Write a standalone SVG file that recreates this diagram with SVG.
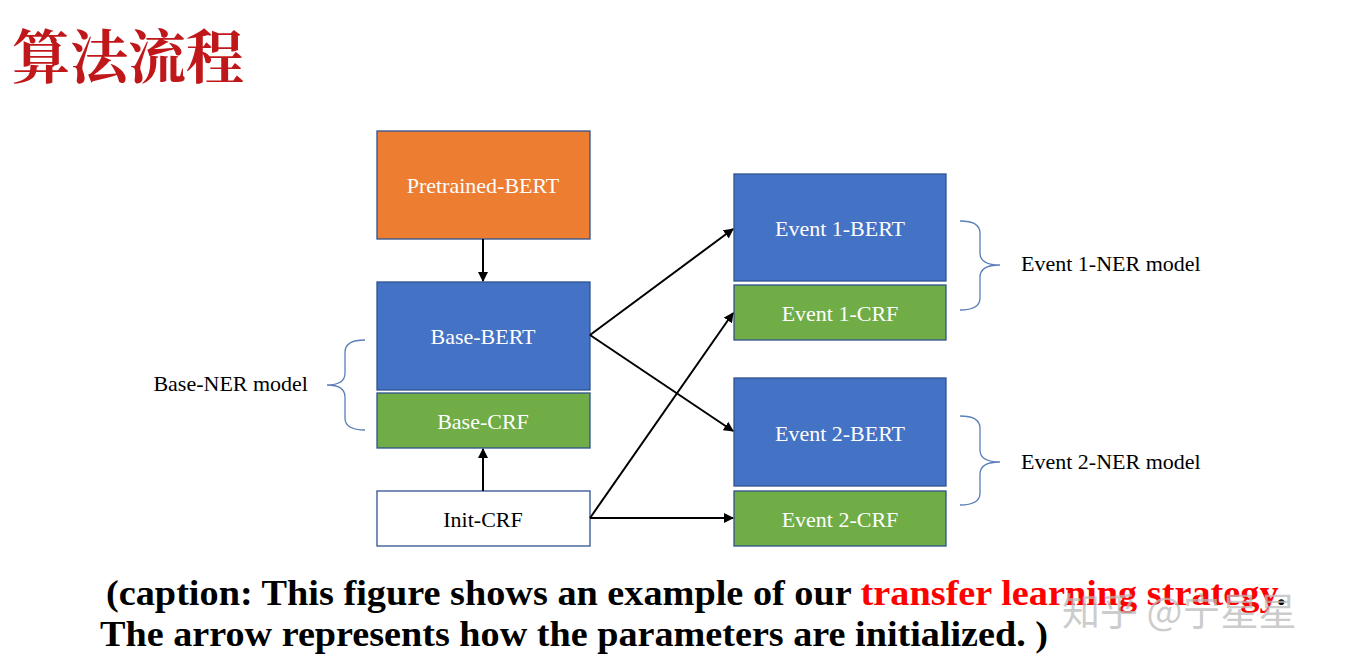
<svg xmlns="http://www.w3.org/2000/svg" width="1347" height="668" viewBox="0 0 1347 668">
<defs>
<marker id="ah" markerWidth="10" markerHeight="10" refX="9" refY="5" orient="auto" markerUnits="userSpaceOnUse"><path d="M0,0 L10,5 L0,10 z" fill="#000"/></marker>
<style>
.b{stroke:#2F528F;stroke-width:1.3}
.t{font-family:"Liberation Serif","Noto Serif CJK SC",serif;font-size:22px;text-anchor:middle}
.w{fill:#fff}
.l{font-family:"Liberation Serif",serif;font-size:22px;fill:#000}
.c{stroke:#000;stroke-width:2;fill:none;marker-end:url(#ah)}
.br{stroke:#5B7FB8;stroke-width:1.3;fill:none}
.cap{font-family:"Liberation Serif",serif;font-weight:bold;font-size:36px;fill:#000}
</style>
</defs>
<rect width="1347" height="668" fill="#fff"/>
<text x="12" y="78" font-family="Noto Serif CJK SC,Noto Sans CJK SC,serif" font-size="58" font-weight="bold" fill="#C0181A">算法流程</text>
<g id="pretrained"><rect class="b" x="377" y="131" width="213" height="108" fill="#ED7D31"/><text class="t w" x="483" y="193">Pretrained-BERT</text></g>
<g id="basebert"><rect class="b" x="377" y="282" width="213" height="108" fill="#4472C4"/><text class="t w" x="483" y="344">Base-BERT</text></g>
<g id="basecrf"><rect class="b" x="377" y="393" width="213" height="55" fill="#70AD47"/><text class="t w" x="483" y="429">Base-CRF</text></g>
<g id="initcrf"><rect class="b" x="377" y="491" width="213" height="55" fill="#fff"/><text class="t" x="483" y="527">Init-CRF</text></g>
<g id="e1bert"><rect class="b" x="734" y="174" width="212" height="107" fill="#4472C4"/><text class="t w" x="840" y="236">Event 1-BERT</text></g>
<g id="e1crf"><rect class="b" x="734" y="285" width="212" height="55" fill="#70AD47"/><text class="t w" x="840" y="321">Event 1-CRF</text></g>
<g id="e2bert"><rect class="b" x="734" y="378" width="212" height="108" fill="#4472C4"/><text class="t w" x="840" y="441">Event 2-BERT</text></g>
<g id="e2crf"><rect class="b" x="734" y="491" width="212" height="55" fill="#70AD47"/><text class="t w" x="840" y="527">Event 2-CRF</text></g>
<g id="connectors">
<line class="c" x1="483" y1="239" x2="483" y2="281"/>
<line class="c" x1="483" y1="491" x2="483" y2="449"/>
<line class="c" x1="590" y1="335" x2="733" y2="229"/>
<line class="c" x1="590" y1="335" x2="733" y2="431"/>
<line class="c" x1="590" y1="518" x2="733" y2="313"/>
<line class="c" x1="590" y1="518" x2="733" y2="518"/>
</g>
<g id="brace-base"><path class="br" d="M365,340 Q345,340 345,352 L345,373 Q345,385 327,385 Q345,385 345,397 L345,418 Q345,430 365,430"/><text class="l" x="308" y="391" text-anchor="end">Base-NER model</text></g>
<g id="brace-e1"><path class="br" d="M960,221 Q980,221 980,233 L980,253 Q980,265 1000,265 Q980,265 980,277 L980,298 Q980,310 960,310"/><text class="l" x="1021" y="271">Event 1-NER model</text></g>
<g id="brace-e2"><path class="br" d="M960,416 Q980,416 980,428 L980,450 Q980,462 1000,462 Q980,462 980,474 L980,493 Q980,505 960,505"/><text class="l" x="1021" y="469">Event 2-NER model</text></g>
<text class="cap" x="106" y="605" textLength="1180" lengthAdjust="spacingAndGlyphs">(caption: This figure shows an example of our <tspan fill="#FF0000">transfer learning strategy</tspan>.</text>
<text class="cap" x="100" y="646" textLength="948" lengthAdjust="spacingAndGlyphs">The arrow represents how the parameters are initialized. )</text>
<text x="1062" y="625" font-family="Noto Sans CJK SC,sans-serif" font-size="38" fill="#BBBBBB" fill-opacity="0.75">知乎 @宁星星</text>
</svg>
